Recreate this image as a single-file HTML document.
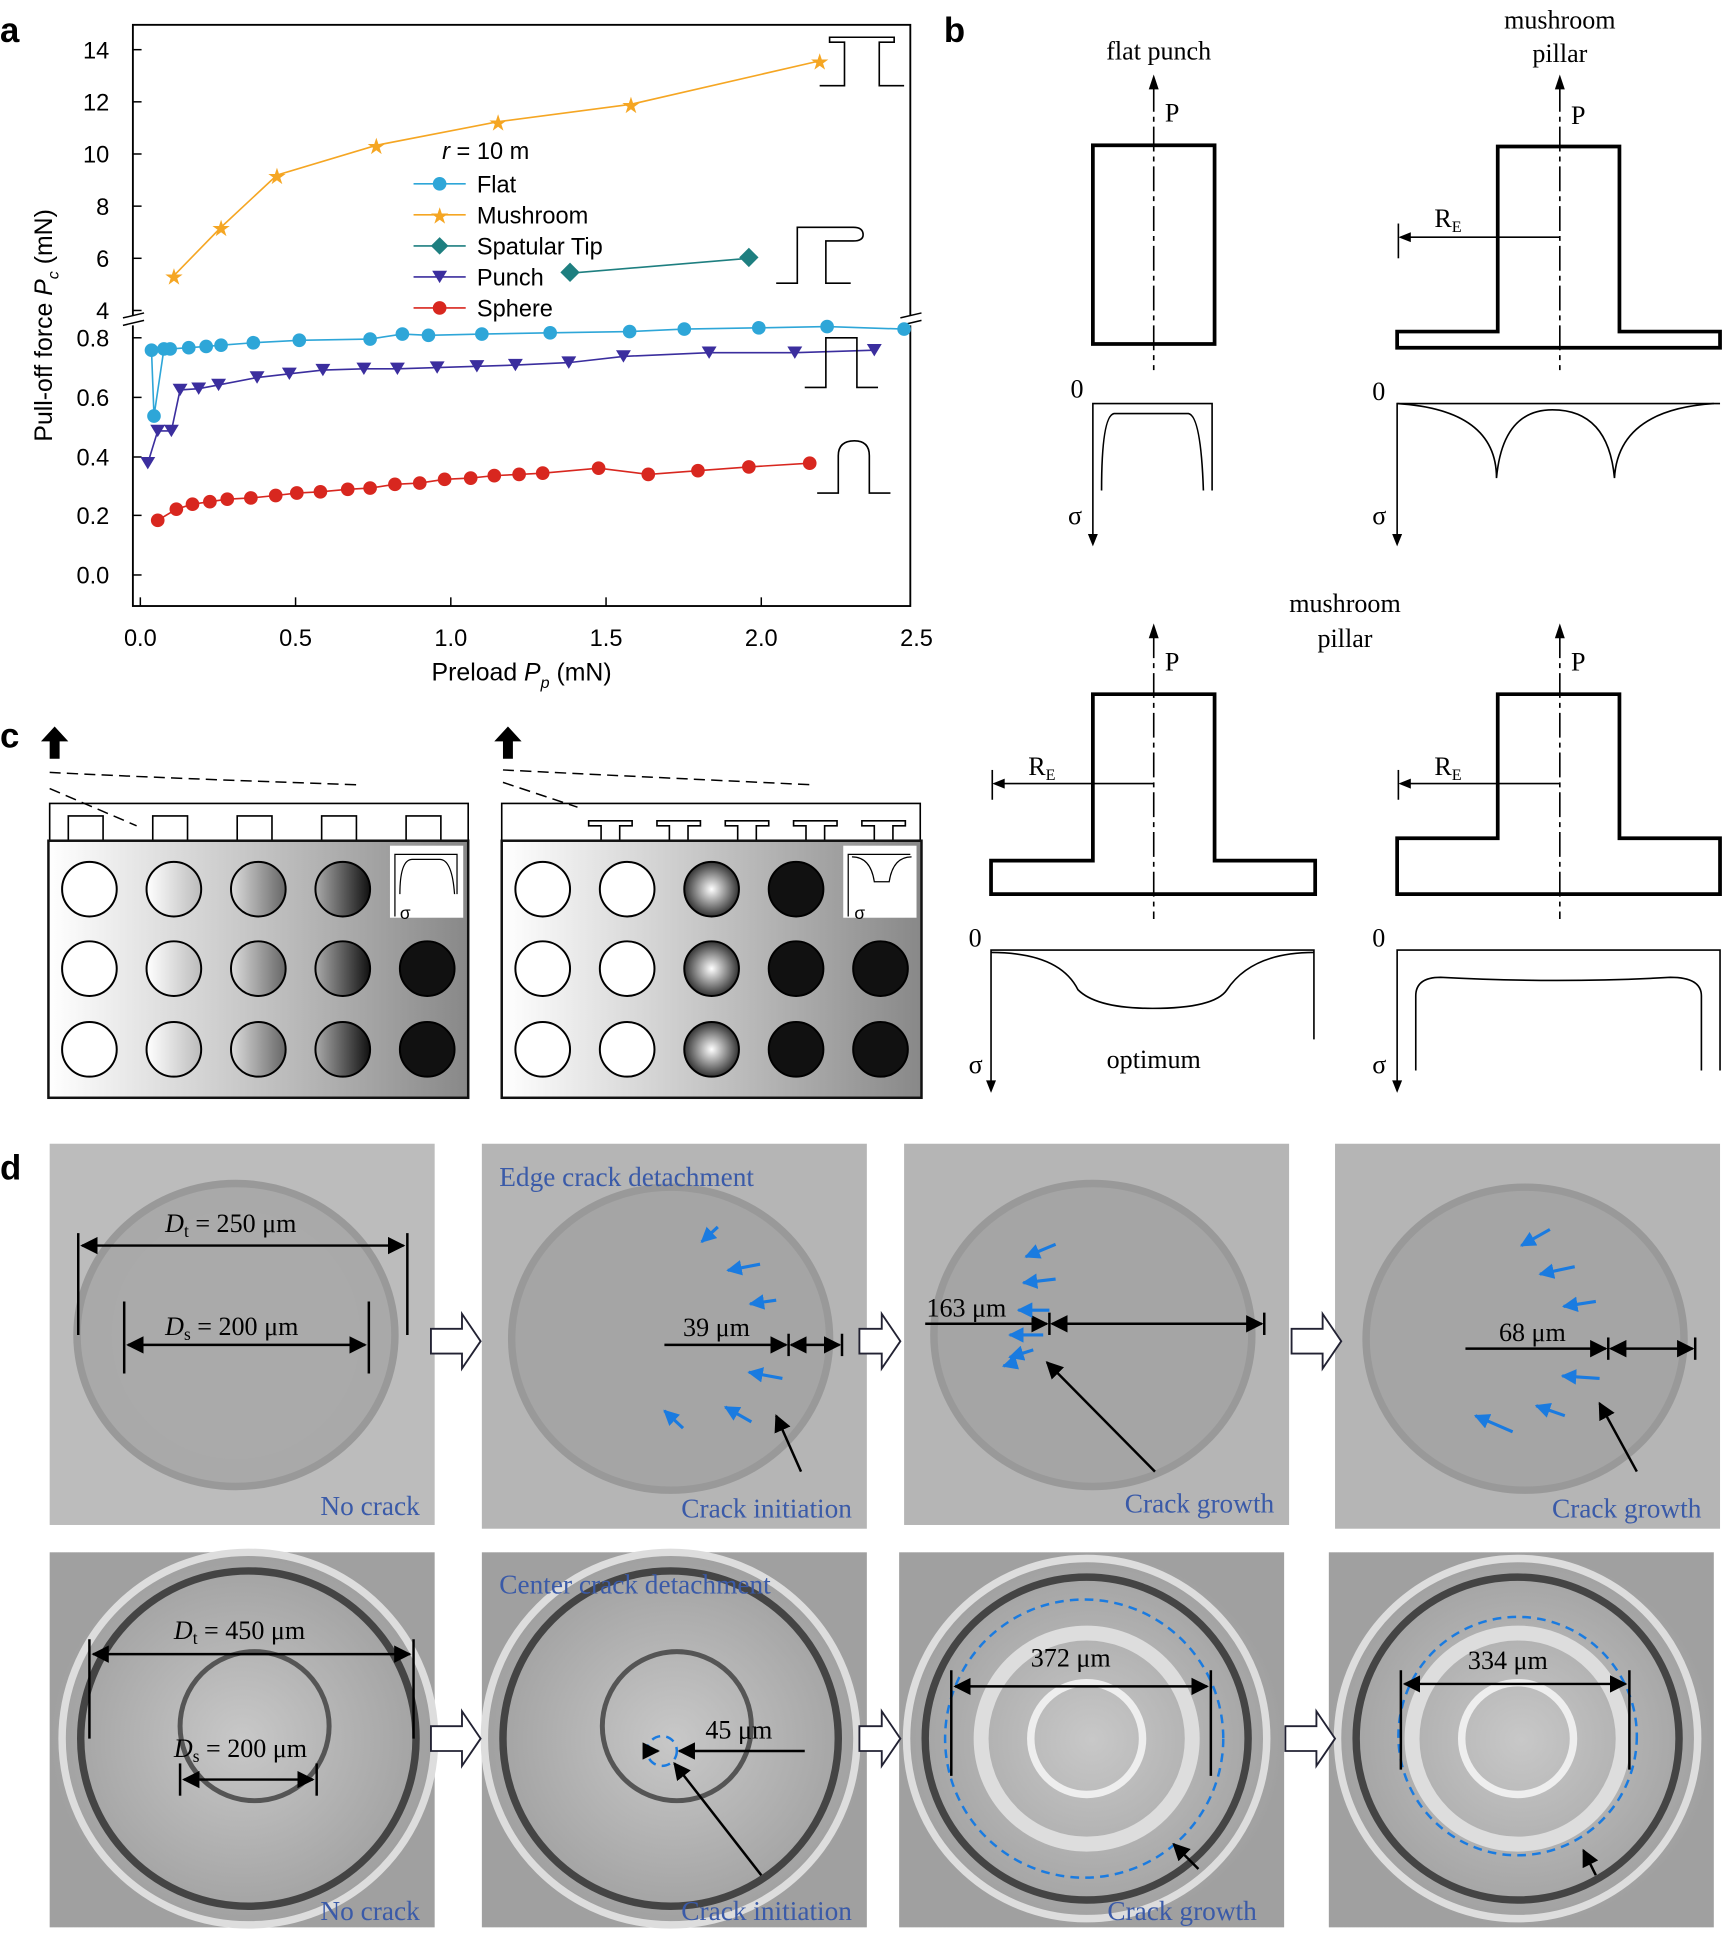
<!DOCTYPE html>
<html><head><style>html,body{margin:0;padding:0;background:#fff}svg{display:block}</style></head><body>
<svg width="1725" height="1941" viewBox="0 0 1389 1563" preserveAspectRatio="none" xmlns="http://www.w3.org/2000/svg" font-family="Liberation Sans, sans-serif">
<defs>
<linearGradient id="bg" x1="0" x2="1"><stop offset="0" stop-color="#fff"/><stop offset="1" stop-color="#888"/></linearGradient>
<linearGradient id="c1" x1="0" x2="1"><stop offset="0" stop-color="#fff"/><stop offset="1" stop-color="#bbb"/></linearGradient>
<linearGradient id="c2" x1="0" x2="1"><stop offset="0" stop-color="#ddd"/><stop offset="1" stop-color="#666"/></linearGradient>
<linearGradient id="c3" x1="0" x2="1"><stop offset="0" stop-color="#aaa"/><stop offset="1" stop-color="#111"/></linearGradient>
<radialGradient id="rg"><stop offset="0" stop-color="#fff"/><stop offset="1" stop-color="#333"/></radialGradient>
<radialGradient id="ph2"><stop offset="0" stop-color="#c8c8c8"/><stop offset="1" stop-color="#a0a0a0"/></radialGradient>
<marker id="ah" viewBox="0 0 10 10" refX="9" refY="5" markerWidth="7" markerHeight="7" orient="auto-start-reverse"><path d="M0,0L10,5L0,10z" fill="#000"/></marker>
<marker id="bh" viewBox="0 0 10 10" refX="9" refY="5" markerWidth="5" markerHeight="5" orient="auto"><path d="M0,0L10,5L0,10z" fill="#1a7be0"/></marker>
</defs>
<style>.l{font-weight:bold;font-size:28px}.t{font-size:19px}.s{font-family:Liberation Serif,serif;font-size:21px}.b{font-family:Liberation Serif,serif;font-size:22px;fill:#3a5aa8}</style>

<!-- panel a -->
<text x="0" y="34" class="l">a</text>
<rect x="107" y="20" width="626" height="468" fill="none" stroke="#000" stroke-width="1.5"/>
<g stroke="#000" stroke-width="1.2">
<line x1="113" y1="488" x2="113" y2="481"/><line x1="238" y1="488" x2="238" y2="481"/><line x1="363" y1="488" x2="363" y2="481"/><line x1="488" y1="488" x2="488" y2="481"/><line x1="613" y1="488" x2="613" y2="481"/>
<line x1="107" y1="463" x2="114" y2="463"/><line x1="107" y1="415" x2="114" y2="415"/><line x1="107" y1="368" x2="114" y2="368"/><line x1="107" y1="320" x2="114" y2="320"/><line x1="107" y1="272" x2="114" y2="272"/>
<line x1="107" y1="250" x2="114" y2="250"/><line x1="107" y1="208" x2="114" y2="208"/><line x1="107" y1="166" x2="114" y2="166"/><line x1="107" y1="124" x2="114" y2="124"/><line x1="107" y1="82" x2="114" y2="82"/><line x1="107" y1="40" x2="114" y2="40"/>
</g>
<rect x="98" y="254" width="20" height="8" fill="#fff"/><rect x="725" y="254" width="16" height="8" fill="#fff"/>
<g stroke="#000" stroke-width="1.2"><line x1="99" y1="256" x2="116" y2="252"/><line x1="99" y1="262" x2="116" y2="258"/><line x1="725" y1="256" x2="742" y2="252"/><line x1="725" y1="262" x2="742" y2="258"/></g>
<g class="t" text-anchor="end"><text x="88" y="470">0.0</text><text x="88" y="422">0.2</text><text x="88" y="375">0.4</text><text x="88" y="327">0.6</text><text x="88" y="279">0.8</text><text x="88" y="257">4</text><text x="88" y="215">6</text><text x="88" y="173">8</text><text x="88" y="131">10</text><text x="88" y="89">12</text><text x="88" y="47">14</text></g>
<g class="t" text-anchor="middle"><text x="113" y="520">0.0</text><text x="238" y="520">0.5</text><text x="363" y="520">1.0</text><text x="488" y="520">1.5</text><text x="613" y="520">2.0</text><text x="738" y="520">2.5</text></g>
<text x="420" y="548" text-anchor="middle" font-size="20">Preload <tspan font-style="italic">P</tspan><tspan font-size="13" font-style="italic" dy="6">p</tspan><tspan dy="-6"> (mN)</tspan></text>
<text transform="translate(42,262) rotate(-90)" text-anchor="middle" font-size="20">Pull-off force <tspan font-style="italic">P</tspan><tspan font-size="13" font-style="italic" dy="5">c</tspan><tspan dy="-5"> (mN)</tspan></text>
<polyline fill="none" stroke="#f5a623" stroke-width="1.3" points="140,222 178,183 223,141 303,117 401,98 508,84 660,49"/>
<g fill="#f5a623" font-size="18" text-anchor="middle"><text x="140" y="229">★</text><text x="178" y="190">★</text><text x="223" y="148">★</text><text x="303" y="124">★</text><text x="401" y="105">★</text><text x="508" y="91">★</text><text x="660" y="56">★</text></g>
<polyline fill="none" stroke="#1e7f80" stroke-width="1.3" points="459,220 603,208"/>
<g fill="#1e7f80"><rect x="453" y="214" width="11" height="11" transform="rotate(45 459 220)"/><rect x="597" y="202" width="11" height="11" transform="rotate(45 603 208)"/></g>
<polyline fill="none" stroke="#2ea6d8" stroke-width="1.3" points="122,282 124,335 132,281 137,281 152,280 166,279 178,278 204,276 241,274 298,273 324,269 345,270 388,269 443,268 507,267 551,265 611,264 666,263 728,265"/>
<g fill="#2ea6d8"><circle cx="122" cy="282" r="5.5"/><circle cx="124" cy="335" r="5.5"/><circle cx="132" cy="281" r="5.5"/><circle cx="137" cy="281" r="5.5"/><circle cx="152" cy="280" r="5.5"/><circle cx="166" cy="279" r="5.5"/><circle cx="178" cy="278" r="5.5"/><circle cx="204" cy="276" r="5.5"/><circle cx="241" cy="274" r="5.5"/><circle cx="298" cy="273" r="5.5"/><circle cx="324" cy="269" r="5.5"/><circle cx="345" cy="270" r="5.5"/><circle cx="388" cy="269" r="5.5"/><circle cx="443" cy="268" r="5.5"/><circle cx="507" cy="267" r="5.5"/><circle cx="551" cy="265" r="5.5"/><circle cx="611" cy="264" r="5.5"/><circle cx="666" cy="263" r="5.5"/><circle cx="728" cy="265" r="5.5"/></g>
<polyline fill="none" stroke="#3b2e9e" stroke-width="1.3" points="119,373 127,347 138,347 145,314 160,313 176,310 207,304 233,301 260,298 293,297 320,297 352,296 384,295 415,294 458,292 502,287 571,284 640,284 704,282"/>
<g fill="#3b2e9e">
<path d="M113,368h12l-6,10z"/><path d="M121,342h12l-6,10z"/><path d="M132,342h12l-6,10z"/><path d="M139,309h12l-6,10z"/><path d="M154,308h12l-6,10z"/><path d="M170,305h12l-6,10z"/><path d="M201,299h12l-6,10z"/><path d="M227,296h12l-6,10z"/><path d="M254,293h12l-6,10z"/><path d="M287,292h12l-6,10z"/><path d="M314,292h12l-6,10z"/><path d="M346,291h12l-6,10z"/><path d="M378,290h12l-6,10z"/><path d="M409,289h12l-6,10z"/><path d="M452,287h12l-6,10z"/><path d="M496,282h12l-6,10z"/><path d="M565,279h12l-6,10z"/><path d="M634,279h12l-6,10z"/><path d="M698,277h12l-6,10z"/></g>
<polyline fill="none" stroke="#d8271f" stroke-width="1.3" points="127,419 142,410 155,406 169,404 183,402 202,401 222,399 239,397 258,396 280,394 298,393 318,390 338,389 358,386 379,385 398,383 418,382 437,381 482,377 522,382 562,379 603,376 652,373"/>
<g fill="#d8271f"><circle cx="127" cy="419" r="5.5"/><circle cx="142" cy="410" r="5.5"/><circle cx="155" cy="406" r="5.5"/><circle cx="169" cy="404" r="5.5"/><circle cx="183" cy="402" r="5.5"/><circle cx="202" cy="401" r="5.5"/><circle cx="222" cy="399" r="5.5"/><circle cx="239" cy="397" r="5.5"/><circle cx="258" cy="396" r="5.5"/><circle cx="280" cy="394" r="5.5"/><circle cx="298" cy="393" r="5.5"/><circle cx="318" cy="390" r="5.5"/><circle cx="338" cy="389" r="5.5"/><circle cx="358" cy="386" r="5.5"/><circle cx="379" cy="385" r="5.5"/><circle cx="398" cy="383" r="5.5"/><circle cx="418" cy="382" r="5.5"/><circle cx="437" cy="381" r="5.5"/><circle cx="482" cy="377" r="5.5"/><circle cx="522" cy="382" r="5.5"/><circle cx="562" cy="379" r="5.5"/><circle cx="603" cy="376" r="5.5"/><circle cx="652" cy="373" r="5.5"/></g>
<text x="356" y="128" font-size="19"><tspan font-style="italic">r</tspan> = 10 m</text>
<g font-size="19">
<line x1="333" y1="148" x2="375" y2="148" stroke="#2ea6d8" stroke-width="1.3"/><circle cx="354" cy="148" r="5.5" fill="#2ea6d8"/><text x="384" y="155">Flat</text>
<line x1="333" y1="173" x2="375" y2="173" stroke="#f5a623" stroke-width="1.3"/><text x="354" y="180" fill="#f5a623" text-anchor="middle" font-size="18">★</text><text x="384" y="180">Mushroom</text>
<line x1="333" y1="198" x2="375" y2="198" stroke="#1e7f80" stroke-width="1.3"/><rect x="349" y="193" width="10" height="10" fill="#1e7f80" transform="rotate(45 354 198)"/><text x="384" y="205">Spatular Tip</text>
<line x1="333" y1="223" x2="375" y2="223" stroke="#3b2e9e" stroke-width="1.3"/><path d="M348,218h12l-6,10z" fill="#3b2e9e"/><text x="384" y="230">Punch</text>
<line x1="333" y1="248" x2="375" y2="248" stroke="#d8271f" stroke-width="1.3"/><circle cx="354" cy="248" r="5.5" fill="#d8271f"/><text x="384" y="255">Sphere</text>
</g>
<g fill="none" stroke="#000" stroke-width="1.3">
<path d="M660,69h20v-35h-12v-4h52v4h-12v35h20"/>
<path d="M625,228h17v-45h45q8,0 8,6q0,5-8,5h-22v34h20"/>
<path d="M648,312h17v-40h25v40h17"/>
<path d="M658,397h17v-30q0-12 13-12q12,0 12,12v30h17"/>
</g>

<!-- panel b -->
<text x="760" y="34" class="l">b</text>
<g class="s" text-anchor="middle"><text x="933" y="48">flat punch</text><text x="1256" y="23">mushroom</text><text x="1256" y="50">pillar</text><text x="1083" y="493">mushroom</text><text x="1083" y="521">pillar</text><text x="929" y="860">optimum</text></g>
<g class="s"><text x="938" y="98">P</text><text x="1265" y="100">P</text><text x="938" y="540">P</text><text x="1265" y="540">P</text>
<text x="1155" y="183">R<tspan font-size="13" dy="4">E</tspan></text><text x="828" y="624">R<tspan font-size="13" dy="4">E</tspan></text><text x="1155" y="624">R<tspan font-size="13" dy="4">E</tspan></text>
<text x="862" y="320">0</text><text x="1105" y="322">0</text><text x="780" y="762">0</text><text x="1105" y="762">0</text>
<text x="860" y="422">σ</text><text x="1105" y="422">σ</text><text x="780" y="864">σ</text><text x="1105" y="864">σ</text></g>
<g fill="none" stroke="#000" stroke-width="3">
<rect x="880" y="117" width="98" height="160"/>
<path d="M1125,280v-13h81v-149h98v149h81v13z"/>
<path d="M798,720v-27h82v-134h98v134h81v27z"/>
<path d="M1125,720v-45h81v-116h98v116h81v45z"/>
</g>
<g stroke="#000" stroke-width="1.3" fill="none" stroke-dasharray="20,4,4,4">
<line x1="929" y1="70" x2="929" y2="298"/><line x1="1256" y1="70" x2="1256" y2="298"/><line x1="929" y1="510" x2="929" y2="740"/><line x1="1256" y1="510" x2="1256" y2="740"/>
</g>
<g stroke="#000" stroke-width="1.3" fill="none">
<line x1="1128" y1="191" x2="1256" y2="191"/><line x1="1126" y1="180" x2="1126" y2="208"/>
<line x1="801" y1="631" x2="929" y2="631"/><line x1="799" y1="620" x2="799" y2="644"/>
<line x1="1128" y1="631" x2="1256" y2="631"/><line x1="1126" y1="620" x2="1126" y2="644"/>
<path d="M880,438V325h96v70"/><path d="M887,395q0-60 10-62h60q10,2 12,62"/>
<path d="M1125,438V325h260"/><path d="M1125,325q80,5 80,60q5-55 45-55q45,0 50,55q3-55 80-60"/>
<path d="M798,878V765h260v72"/><path d="M798,767q55,0 70,30q15,15 60,15q50,0 60-15q20-30 70-30"/>
<path d="M1125,878V765h260v97"/><path d="M1140,862v-60q0-15 20-15q95,5 185,0q25,0 25,15v60"/>
</g>
<g fill="#000"><path d="M929,60l-4,12h8z"/><path d="M1256,60l-4,12h8z"/><path d="M929,502l-4,12h8z"/><path d="M1256,502l-4,12h8z"/><path d="M1126,191l10,-4v8z"/><path d="M799,631l10,-4v8z"/><path d="M1126,631l10,-4v8z"/><path d="M880,440l-4,-10h8z"/><path d="M1125,440l-4,-10h8z"/><path d="M798,880l-4,-10h8z"/><path d="M1125,880l-4,-10h8z"/></g>

<!-- panel c -->
<text x="0" y="602" class="l">c</text>
<g fill="#000"><path d="M44,585l-11,12h7v14h8v-14h7z"/><path d="M409,585l-11,12h7v14h8v-14h7z"/></g>
<g fill="none" stroke="#000" stroke-width="1.3">
<path d="M40,677v-30h337v30h-22v-20h-28v20h-40v-20h-28v20h-40v-20h-28v20h-40v-20h-28v20h-40v-20h-28v20z" fill="#fff"/>
<path d="M404,677v-30h337v30h-22v-12h10v-4h-35v4h10v12h-40v-12h10v-4h-35v4h10v12h-40v-12h10v-4h-35v4h10v12h-40v-12h10v-4h-35v4h10v12h-40v-12h10v-4h-35v4h10v12z" fill="#fff"/>
</g>
<g fill="none" stroke="#000" stroke-width="1.2" stroke-dasharray="9,5"><path d="M40,622q100,5 250,10"/><path d="M40,635l70,30"/><path d="M405,620q100,5 250,12"/><path d="M405,630l60,20"/></g>
<rect x="39" y="677" width="338" height="207" fill="url(#bg)" stroke="#111" stroke-width="2"/>
<rect x="404" y="677" width="338" height="207" fill="url(#bg)" stroke="#111" stroke-width="2"/>
<g stroke="#000" stroke-width="1.6">
<circle cx="72" cy="716" r="22" fill="#fff"/><circle cx="140" cy="716" r="22" fill="url(#c1)"/><circle cx="208" cy="716" r="22" fill="url(#c2)"/><circle cx="276" cy="716" r="22" fill="url(#c3)"/>
<circle cx="72" cy="780" r="22" fill="#fff"/><circle cx="140" cy="780" r="22" fill="url(#c1)"/><circle cx="208" cy="780" r="22" fill="url(#c2)"/><circle cx="276" cy="780" r="22" fill="url(#c3)"/><circle cx="344" cy="780" r="22" fill="#111"/>
<circle cx="72" cy="845" r="22" fill="#fff"/><circle cx="140" cy="845" r="22" fill="url(#c1)"/><circle cx="208" cy="845" r="22" fill="url(#c2)"/><circle cx="276" cy="845" r="22" fill="url(#c3)"/><circle cx="344" cy="845" r="22" fill="#111"/>
<circle cx="437" cy="716" r="22" fill="#fff"/><circle cx="505" cy="716" r="22" fill="#fff"/><circle cx="573" cy="716" r="22" fill="url(#rg)"/><circle cx="641" cy="716" r="22" fill="#111"/>
<circle cx="437" cy="780" r="22" fill="#fff"/><circle cx="505" cy="780" r="22" fill="#fff"/><circle cx="573" cy="780" r="22" fill="url(#rg)"/><circle cx="641" cy="780" r="22" fill="#111"/><circle cx="709" cy="780" r="22" fill="#111"/>
<circle cx="437" cy="845" r="22" fill="#fff"/><circle cx="505" cy="845" r="22" fill="#fff"/><circle cx="573" cy="845" r="22" fill="url(#rg)"/><circle cx="641" cy="845" r="22" fill="#111"/><circle cx="709" cy="845" r="22" fill="#111"/>
</g>
<rect x="314" y="681" width="59" height="58" fill="#fff"/><rect x="679" y="681" width="59" height="58" fill="#fff"/>
<g fill="none" stroke="#000" stroke-width="1"><path d="M318,738v-50h50v32"/><path d="M322,720q0-28 10-28h22q10,0 12,28"/><path d="M683,738v-50h50"/><path d="M686,690q15,0 18,20h12q3-20 18-20"/></g>
<text x="322" y="740" font-size="14">σ</text><text x="688" y="740" font-size="14">σ</text>

<!-- panel d -->
<text x="0" y="950" class="l">d</text>
<rect x="40" y="921" width="310" height="307" fill="#bcbcbc"/><ellipse cx="190" cy="1075" rx="128" ry="122" fill="#a9a9a9" stroke="#999" stroke-width="6"/><ellipse cx="190" cy="1075" rx="100" ry="100" fill="#aaa"/>
<rect x="388" y="921" width="310" height="310" fill="#b5b5b5"/><ellipse cx="540" cy="1078" rx="128" ry="122" fill="#a5a5a5" stroke="#999" stroke-width="6"/>
<rect x="728" y="921" width="310" height="307" fill="#b5b5b5"/><ellipse cx="880" cy="1075" rx="128" ry="122" fill="#a5a5a5" stroke="#999" stroke-width="6"/>
<rect x="1075" y="921" width="310" height="310" fill="#b5b5b5"/><ellipse cx="1228" cy="1078" rx="128" ry="122" fill="#a5a5a5" stroke="#999" stroke-width="6"/>
<g fill="url(#ph2)"><rect x="40" y="1250" width="310" height="302"/><rect x="388" y="1250" width="310" height="302"/><rect x="724" y="1250" width="310" height="302"/><rect x="1070" y="1250" width="310" height="302"/></g>
<g fill="none" stroke-width="6">
<circle cx="200" cy="1400" r="135" stroke="#444"/><circle cx="200" cy="1400" r="150" stroke="#ddd"/><circle cx="205" cy="1390" r="60" stroke="#555" stroke-width="4"/>
<circle cx="540" cy="1400" r="135" stroke="#444"/><circle cx="540" cy="1400" r="150" stroke="#ddd"/><circle cx="545" cy="1390" r="60" stroke="#555" stroke-width="4"/>
<circle cx="875" cy="1400" r="130" stroke="#444"/><circle cx="875" cy="1400" r="145" stroke="#ddd"/><circle cx="875" cy="1400" r="45" stroke="#eee"/><circle cx="875" cy="1400" r="85" stroke="#ddd" stroke-width="12"/>
<circle cx="1222" cy="1400" r="130" stroke="#444"/><circle cx="1222" cy="1400" r="145" stroke="#ddd"/><circle cx="1222" cy="1400" r="45" stroke="#eee"/><circle cx="1222" cy="1400" r="85" stroke="#ddd" stroke-width="12"/>
</g>
<g fill="none" stroke="#1a7be0" stroke-width="2" stroke-dasharray="7,5"><circle cx="873" cy="1400" r="112"/><circle cx="1222" cy="1398" r="96"/><circle cx="533" cy="1410" r="12"/></g>
<g fill="#fff" stroke="#223" stroke-width="1.5">
<path d="M347,1070h25v-12l15,22l-15,22v-12h-25z"/><path d="M692,1070h18v-12l15,22l-15,22v-12h-18z"/><path d="M1040,1070h25v-12l15,22l-15,22v-12h-25z"/>
<path d="M347,1390h25v-12l15,22l-15,22v-12h-25z"/><path d="M692,1390h18v-12l15,22l-15,22v-12h-18z"/><path d="M1035,1390h25v-12l15,22l-15,22v-12h-25z"/>
</g>
<g stroke="#000" stroke-width="2" fill="none">
<line x1="66" y1="1003" x2="325" y2="1003" marker-start="url(#ah)" marker-end="url(#ah)"/><line x1="63" y1="993" x2="63" y2="1075"/><line x1="328" y1="993" x2="328" y2="1075"/>
<line x1="103" y1="1083" x2="294" y2="1083" marker-start="url(#ah)" marker-end="url(#ah)"/><line x1="100" y1="1048" x2="100" y2="1106"/><line x1="297" y1="1048" x2="297" y2="1106"/>
<line x1="535" y1="1083" x2="633" y2="1083" marker-end="url(#ah)"/><line x1="637" y1="1083" x2="676" y2="1083" marker-start="url(#ah)" marker-end="url(#ah)"/><line x1="635" y1="1074" x2="635" y2="1092"/><line x1="678" y1="1074" x2="678" y2="1092"/><line x1="645" y1="1185" x2="625" y2="1140" marker-end="url(#ah)"/>
<line x1="745" y1="1066" x2="843" y2="1066" marker-end="url(#ah)"/><line x1="847" y1="1066" x2="1016" y2="1066" marker-start="url(#ah)" marker-end="url(#ah)"/><line x1="845" y1="1057" x2="845" y2="1075"/><line x1="1018" y1="1057" x2="1018" y2="1075"/><line x1="930" y1="1185" x2="843" y2="1097" marker-end="url(#ah)"/>
<line x1="1180" y1="1086" x2="1293" y2="1086" marker-end="url(#ah)"/><line x1="1297" y1="1086" x2="1363" y2="1086" marker-start="url(#ah)" marker-end="url(#ah)"/><line x1="1295" y1="1077" x2="1295" y2="1095"/><line x1="1365" y1="1077" x2="1365" y2="1095"/><line x1="1318" y1="1185" x2="1288" y2="1130" marker-end="url(#ah)"/>
<line x1="75" y1="1332" x2="330" y2="1332" marker-start="url(#ah)" marker-end="url(#ah)"/><line x1="72" y1="1320" x2="72" y2="1400"/><line x1="333" y1="1320" x2="333" y2="1400"/>
<line x1="148" y1="1433" x2="252" y2="1433" marker-start="url(#ah)" marker-end="url(#ah)"/><line x1="145" y1="1420" x2="145" y2="1446"/><line x1="255" y1="1420" x2="255" y2="1446"/>
<line x1="648" y1="1410" x2="547" y2="1410" marker-end="url(#ah)"/><line x1="520" y1="1410" x2="530" y2="1410" marker-end="url(#ah)"/><line x1="613" y1="1510" x2="543" y2="1420" marker-end="url(#ah)"/>
<line x1="769" y1="1358" x2="972" y2="1358" marker-start="url(#ah)" marker-end="url(#ah)"/><line x1="766" y1="1345" x2="766" y2="1430"/><line x1="975" y1="1345" x2="975" y2="1430"/><line x1="965" y1="1505" x2="945" y2="1485" marker-end="url(#ah)"/>
<line x1="1131" y1="1356" x2="1309" y2="1356" marker-start="url(#ah)" marker-end="url(#ah)"/><line x1="1128" y1="1345" x2="1128" y2="1425"/><line x1="1312" y1="1345" x2="1312" y2="1425"/><line x1="1285" y1="1510" x2="1275" y2="1490" marker-end="url(#ah)"/>
</g>
<g stroke="#1a7be0" stroke-width="2.5">
<line x1="578" y1="988" x2="565" y2="1000" marker-end="url(#bh)"/><line x1="612" y1="1018" x2="586" y2="1023" marker-end="url(#bh)"/><line x1="625" y1="1047" x2="604" y2="1050" marker-end="url(#bh)"/><line x1="630" y1="1110" x2="603" y2="1105" marker-end="url(#bh)"/><line x1="605" y1="1145" x2="584" y2="1133" marker-end="url(#bh)"/><line x1="550" y1="1150" x2="535" y2="1136" marker-end="url(#bh)"/>
<line x1="850" y1="1002" x2="826" y2="1012" marker-end="url(#bh)"/><line x1="850" y1="1030" x2="824" y2="1033" marker-end="url(#bh)"/><line x1="845" y1="1055" x2="820" y2="1055" marker-end="url(#bh)"/><line x1="840" y1="1075" x2="813" y2="1075" marker-end="url(#bh)"/><line x1="832" y1="1087" x2="813" y2="1093" marker-end="url(#bh)"/><line x1="818" y1="1097" x2="808" y2="1100" marker-end="url(#bh)"/>
<line x1="1248" y1="990" x2="1225" y2="1003" marker-end="url(#bh)"/><line x1="1268" y1="1020" x2="1240" y2="1026" marker-end="url(#bh)"/><line x1="1285" y1="1048" x2="1259" y2="1052" marker-end="url(#bh)"/><line x1="1288" y1="1110" x2="1258" y2="1108" marker-end="url(#bh)"/><line x1="1260" y1="1140" x2="1237" y2="1132" marker-end="url(#bh)"/><line x1="1218" y1="1153" x2="1188" y2="1140" marker-end="url(#bh)"/>
</g>
<g class="s">
<text x="133" y="992"><tspan font-style="italic">D</tspan><tspan font-size="14" dy="4">t</tspan><tspan dy="-4"> = 250 μm</tspan></text>
<text x="133" y="1075"><tspan font-style="italic">D</tspan><tspan font-size="14" dy="4">s</tspan><tspan dy="-4"> = 200 μm</tspan></text>
<text x="550" y="1076">39 μm</text><text x="746" y="1060">163 μm</text><text x="1207" y="1080">68 μm</text>
<text x="140" y="1320"><tspan font-style="italic">D</tspan><tspan font-size="14" dy="4">t</tspan><tspan dy="-4"> = 450 μm</tspan></text>
<text x="140" y="1415"><tspan font-style="italic">D</tspan><tspan font-size="14" dy="4">s</tspan><tspan dy="-4"> = 200 μm</tspan></text>
<text x="568" y="1400">45 μm</text><text x="830" y="1342">372 μm</text><text x="1182" y="1344">334 μm</text>
</g>
<g class="b">
<text x="402" y="955">Edge crack detachment</text><text x="402" y="1283">Center crack detachment</text>
<text x="338" y="1220" text-anchor="end">No crack</text><text x="686" y="1222" text-anchor="end">Crack initiation</text><text x="1026" y="1218" text-anchor="end">Crack growth</text><text x="1370" y="1222" text-anchor="end">Crack growth</text>
<text x="338" y="1546" text-anchor="end">No crack</text><text x="686" y="1546" text-anchor="end">Crack initiation</text><text x="1012" y="1546" text-anchor="end">Crack growth</text>
</g>
</svg>
</body></html>
